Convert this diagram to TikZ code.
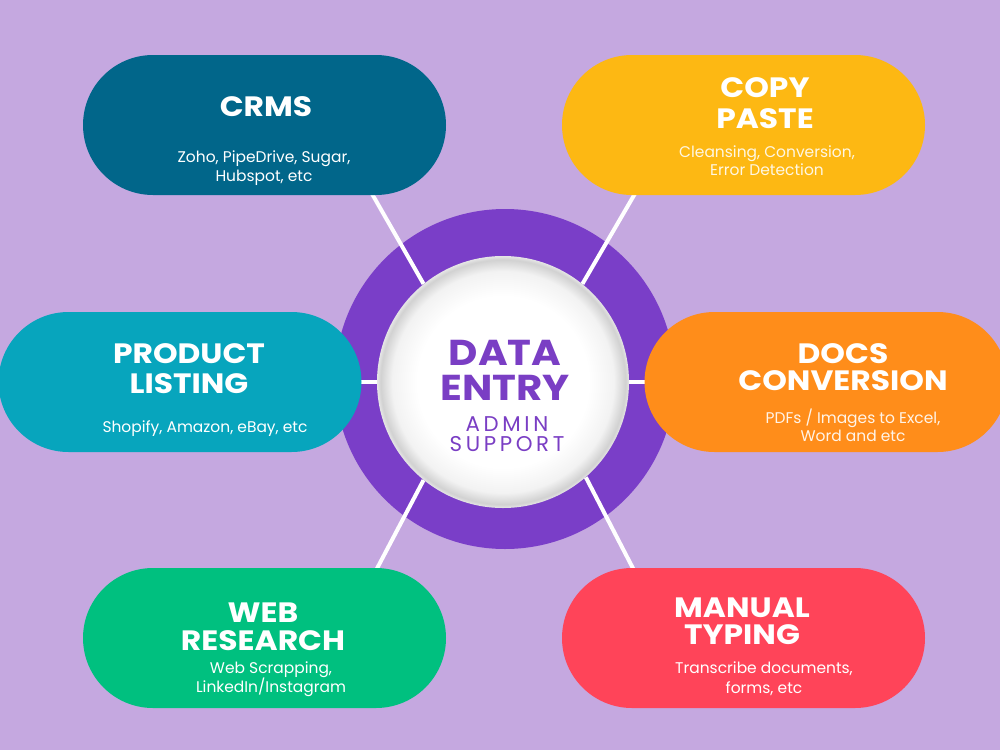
\documentclass[tikz,border=0pt]{standalone}
\usepackage{fontspec}
\setmainfont{Poppins}
\newfontfamily\ttlfont{Poppins}[FakeStretch=1.12]
\usetikzlibrary{shapes.misc}
\definecolor{bgc}{HTML}{C5A8E0}
\definecolor{ringc}{HTML}{7A3EC8}
\definecolor{txtp}{HTML}{7A3EC4}
\definecolor{crmsc}{HTML}{01668A}
\definecolor{copyc}{HTML}{FDB813}
\definecolor{prodc}{HTML}{07A5BD}
\definecolor{docsc}{HTML}{FF8D1A}
\definecolor{webc}{HTML}{00C07F}
\definecolor{manc}{HTML}{FF4459}
\pgfdeclarelayer{back}
\pgfdeclarelayer{links}
\pgfsetlayers{back,links,main}
\pgfdeclareradialshading{sphere}{\pgfpoint{0bp}{0bp}}{color(0bp)=(white); color(17bp)=(white); color(22bp)=(black!5); color(24.3bp)=(black!18); color(25bp)=(black!10); color(50bp)=(black!10)}
\begin{document}
\begin{tikzpicture}[x=0.75pt,y=-0.75pt,
  pill/.style={rounded rectangle, minimum width=272.25pt, minimum height=105pt, inner sep=0pt, draw=none},
  ttl/.style={anchor=base, inner sep=0pt, text=white, font=\fontsize{21}{21}\ttlfont\bfseries},
  sub/.style={anchor=base, inner sep=0pt, text=white, font=\fontsize{11.6}{13}\selectfont},
  link/.style={draw=white, line width=3pt},
  hubt/.style={anchor=base, inner sep=0pt, text=txtp}]
\useasboundingbox (0,0) rectangle (1000,750);
\begin{pgfonlayer}{back}
\fill[bgc] (0,0) rectangle (1000,750);
\node[circle, fill=ringc, minimum size=255pt, inner sep=0pt] (ring) at (505,379) {};
\end{pgfonlayer}
% hub
\node[circle, minimum size=189pt, inner sep=0pt, shading=sphere] (hub) at (503,382) {};
\node[hubt, font=\fontsize{27}{27}\ttlfont\bfseries] (h1) at (505,365) {DATA};
\node[hubt, font=\fontsize{27}{27}\ttlfont\bfseries] (h2) at (505,400) {ENTRY};
\node[hubt, font=\fontsize{16}{16}\selectfont\addfontfeature{LetterSpace=17}] (h3) at (507,431.5) {ADMIN};
\node[hubt, font=\fontsize{16}{16}\selectfont\addfontfeature{LetterSpace=17}] (h4) at (507,451) {SUPPORT};
% pills
\node[pill, fill=crmsc] (crms) at (264.5,125) {};
\node[pill, fill=copyc] (copy) at (743.5,125) {};
\node[pill, fill=prodc] (prod) at (180,382) {};
\node[pill, fill=docsc] (docs) at (826,382) {};
\node[pill, fill=webc] (web) at (264.5,638) {};
\node[pill, fill=manc] (man) at (743.5,638) {};
% link ends
\coordinate (lcrms) at (367,185);
\coordinate (lcopy) at (640,185);
\coordinate (lprod) at (350,382);
\coordinate (ldocs) at (655,382);
\coordinate (lweb) at (372,578);
\coordinate (lman) at (638,578);
\begin{pgfonlayer}{links}
\draw[link] (hub.129) -- (lcrms);
\draw[link] (hub.51) -- (lcopy);
\draw[link] (hub.180) -- (lprod);
\draw[link] (hub.0) -- (ldocs);
\draw[link] (hub.231) -- (lweb);
\draw[link] (hub.311) -- (lman);
\end{pgfonlayer}
% texts
\node[ttl] (crms-t) at (266,116) {CRMS};
\node[sub] (crms-s1) at (264,162) {Zoho, PipeDrive, Sugar,};
\node[sub] (crms-s2) at (264,181) {Hubspot, etc};
\node[ttl] (copy-t1) at (765,97) {COPY};
\node[ttl] (copy-t2) at (765,128) {PASTE};
\node[sub, text=white!88!copyc] (copy-s1) at (767,157) {Cleansing, Conversion,};
\node[sub, text=white!88!copyc] (copy-s2) at (767,175) {Error Detection};
\node[ttl] (prod-t1) at (189,363) {PRODUCT};
\node[ttl] (prod-t2) at (189,393) {LISTING};
\node[sub] (prod-s1) at (205,432) {Shopify, Amazon, eBay, etc};
\node[ttl] (docs-t1) at (843,363) {DOCS};
\node[ttl] (docs-t2) at (843,390) {CONVERSION};
\node[sub, text=white!90!docsc] (docs-s1) at (853,423) {PDFs / Images to Excel,};
\node[sub, text=white!90!docsc] (docs-s2) at (853,441) {Word and etc};
\node[ttl] (web-t1) at (263,622) {WEB};
\node[ttl] (web-t2) at (263,650) {RESEARCH};
\node[sub] (web-s1) at (271,673) {Web Scrapping,};
\node[sub] (web-s2) at (271,692) {LinkedIn/Instagram};
\node[ttl] (man-t1) at (742,617) {MANUAL};
\node[ttl] (man-t2) at (742,644) {TYPING};
\node[sub] (man-s1) at (764,673) {Transcribe documents,};
\node[sub] (man-s2) at (764,693) {forms, etc};
\end{tikzpicture}
\end{document}
